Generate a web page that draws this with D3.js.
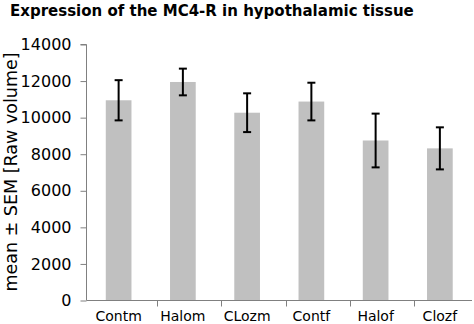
<!DOCTYPE html>
<html>
<head>
<meta charset="utf-8">
<script src="https://cdn.jsdelivr.net/npm/d3@7"></script>
<style>
  body { margin: 0; background: #fff; }
  text { font-family: "DejaVu Sans", Verdana, sans-serif; fill: #000; }
</style>
</head>
<body>
<script>
// groups, means and SEM
var groups = ["Contm", "Halom", "CLozm", "Contf", "Halof", "Clozf"];
var means = [10950, 11950, 10270, 10880, 8750, 8320];
var sems = [1100, 730, 1060, 1030, 1470, 1150];
var yTicks = [0, 2000, 4000, 6000, 8000, 10000, 12000, 14000];

var width = 474, height = 324;

var svg = d3.select("body").append("svg")
    .attr("width", width)
    .attr("height", height);

var x = d3.scaleBand()
    .domain(groups)
    .range([86.5, 472])
    .paddingInner(0.6)
    .paddingOuter(0.3);

var y = d3.scaleLinear()
    .domain([0, 14000])
    .range([300.5, 44.5]);

// title
svg.append("text")
    .attr("x", 10)
    .attr("y", 16)
    .style("font-weight", "bold")
    .style("font-size", "15px")
    .text("Expression of the MC4-R in hypothalamic tissue");

// y axis label
svg.append("text")
    .attr("transform", "translate(17,172) rotate(-90)")
    .attr("text-anchor", "middle")
    .style("font-size", "17.5px")
    .text("mean \u00b1 SEM [Raw volume]");

// bars
svg.append("g").selectAll("rect")
    .data(groups)
    .enter().append("rect")
    .attr("x", function(d) { return x(d); })
    .attr("width", x.bandwidth())
    .attr("y", function(d, i) { return y(means[i]); })
    .attr("height", function(d, i) { return y(0) - y(means[i]); })
    .attr("fill", "#c0c0c0");

// error bars
var err = svg.append("g").selectAll("g")
    .data(groups)
    .enter().append("g")
    .attr("stroke", "#000")
    .attr("stroke-width", 2);
err.append("line")
    .attr("x1", function(d) { return x(d) + x.bandwidth() / 2; })
    .attr("x2", function(d) { return x(d) + x.bandwidth() / 2; })
    .attr("y1", function(d, i) { return y(means[i] + sems[i]); })
    .attr("y2", function(d, i) { return y(means[i] - sems[i]); });
[1, -1].forEach(function(s) {
  err.append("line")
      .attr("x1", function(d) { return x(d) + x.bandwidth() / 2 - 4; })
      .attr("x2", function(d) { return x(d) + x.bandwidth() / 2 + 4; })
      .attr("y1", function(d, i) { return y(means[i] + s * sems[i]); })
      .attr("y2", function(d, i) { return y(means[i] + s * sems[i]); });
});

// y axis
var yAxis = svg.append("g")
    .attr("transform", "translate(86.5,0)")
    .call(d3.axisLeft(y).tickValues(yTicks).tickSize(6).tickPadding(9).tickFormat(d3.format("d")));
yAxis.selectAll("text").style("font-size", "16px");

// x axis, ticks at the category boundaries
var xAxis = svg.append("g")
    .attr("transform", "translate(0,300.5)");
xAxis.append("line")
    .attr("x1", 86.5).attr("x2", 472)
    .attr("stroke", "#808080");
xAxis.selectAll(".tk")
    .data(groups)
    .enter().append("line")
    .attr("class", "tk")
    .attr("x1", function(d) { return Math.round(x(d) + x.step() * 0.8) + 0.5; })
    .attr("x2", function(d) { return Math.round(x(d) + x.step() * 0.8) + 0.5; })
    .attr("y1", 0).attr("y2", 6)
    .attr("stroke", "#808080");
xAxis.selectAll("text")
    .data(groups)
    .enter().append("text")
    .attr("x", function(d) { return x(d) + x.bandwidth() / 2; })
    .attr("y", 20)
    .attr("text-anchor", "middle")
    .style("font-size", "14px")
    .text(function(d) { return d; });

yAxis.selectAll("line, path").attr("stroke", "#808080");
yAxis.select(".domain").attr("d", "M-6,44.5H0V300.5");
</script>
</body>
</html>
